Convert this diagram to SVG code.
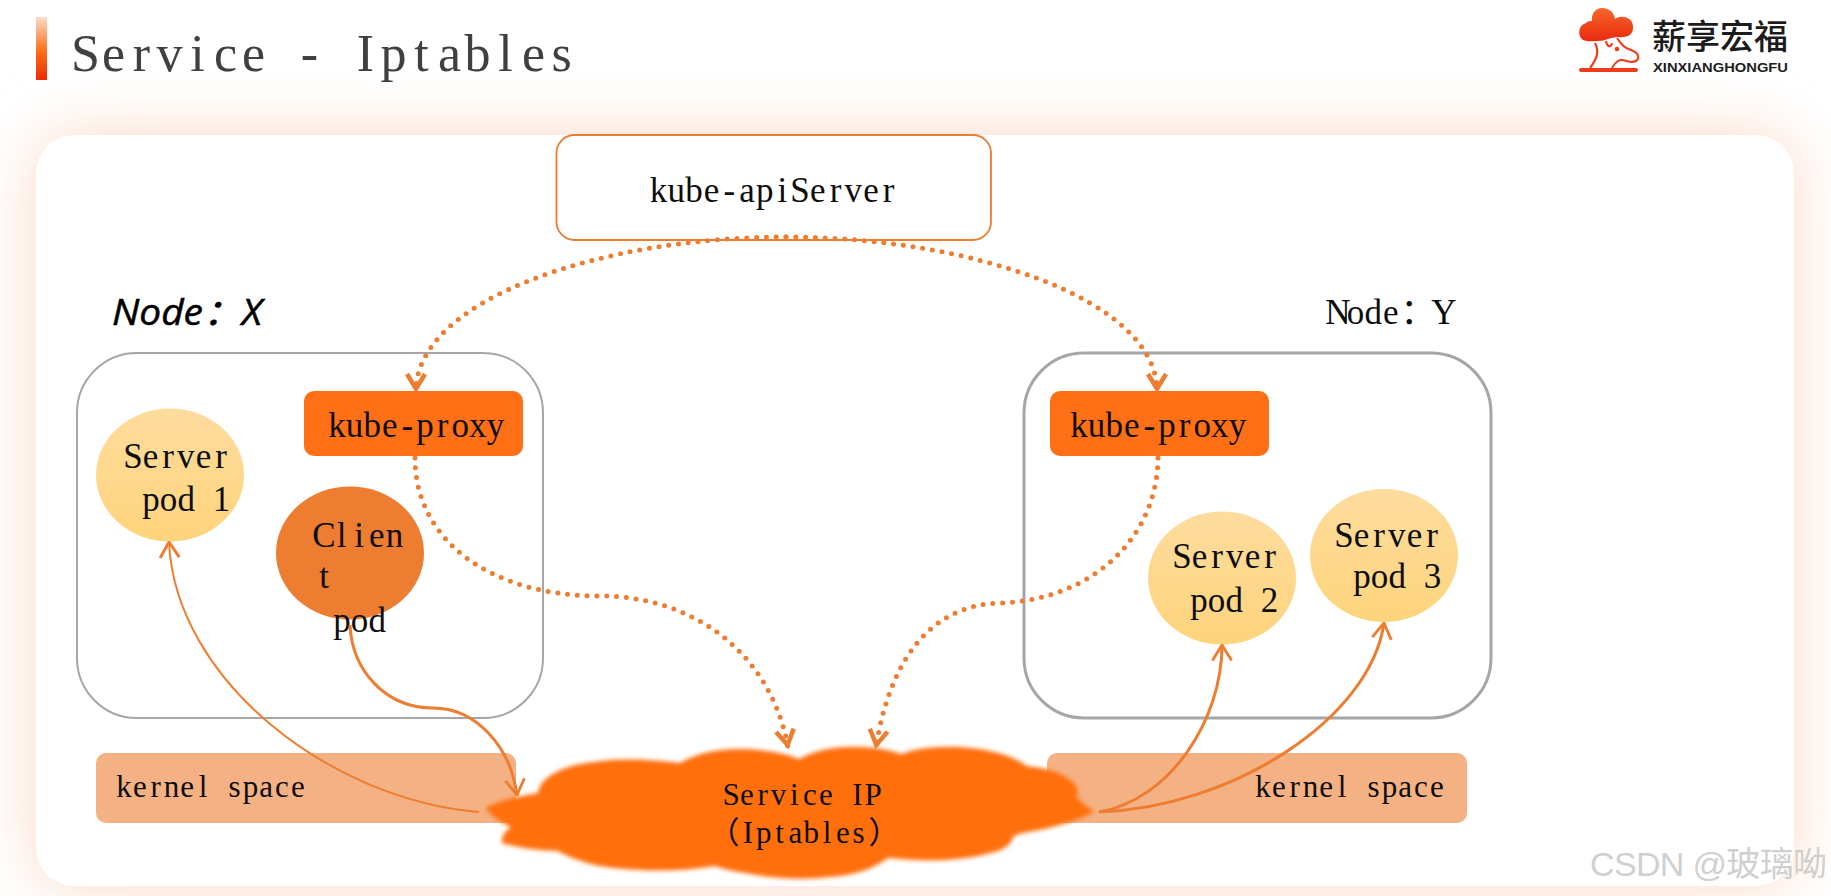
<svg xmlns="http://www.w3.org/2000/svg" width="1831" height="896" viewBox="0 0 1831 896">
<style>
.t{font-family:"Liberation Serif","Noto Sans CJK SC",serif;font-size:35px;fill:#0d0d0d;text-anchor:middle}
.s{font-size:31px}
.nodebox{fill:none;stroke:#a6a6a6}
.proxy{fill:#ff7016}
.kernel{fill:#f4b183}
.dot{fill:none;stroke:#ed7d31;stroke-width:5;stroke-linecap:round;stroke-dasharray:0 9.8;marker-end:url(#open)}
.solid{fill:none;stroke:#ed7d31}
</style>
<defs>
<linearGradient id="bar" x1="0" y1="0" x2="0" y2="1"><stop offset="0" stop-color="#fbdcc8"/><stop offset="0.55" stop-color="#ff6d14"/><stop offset="1" stop-color="#ec2a05"/></linearGradient>
<linearGradient id="pod" x1="0" y1="0" x2="0" y2="1"><stop offset="0" stop-color="#fedc9e"/><stop offset="1" stop-color="#fed47c"/></linearGradient>
<linearGradient id="logo" x1="0" y1="0" x2="0" y2="1"><stop offset="0" stop-color="#f4672a"/><stop offset="1" stop-color="#ea2a10"/></linearGradient>
<filter id="glow" x="-10%" y="-20%" width="120%" height="140%"><feGaussianBlur stdDeviation="32"/></filter>
<filter id="soft" x="-5%" y="-15%" width="110%" height="130%"><feGaussianBlur stdDeviation="2"/></filter>
<marker id="open" markerUnits="userSpaceOnUse" markerWidth="30" markerHeight="30" refX="23" refY="15" orient="auto" viewBox="0 0 30 30"><path d="M6,6 L21,15 L6,24" fill="none" stroke="#ed7d31" stroke-width="4.5"/></marker>
<marker id="thin" markerUnits="userSpaceOnUse" markerWidth="24" markerHeight="24" refX="19" refY="10" orient="auto" viewBox="0 0 20 20"><path d="M6,2 L19,10 L6,18" fill="none" stroke="#ed7d31" stroke-width="2.4"/></marker>
</defs>
<rect width="1831" height="896" fill="#ffffff"/>
<rect x="36" y="135" width="1758" height="751" rx="38" fill="#fbd9c6" filter="url(#glow)"/>
<rect x="36" y="135" width="1758" height="751" rx="38" fill="#ffffff"/>
<g id="title">
<rect x="36" y="17" width="11" height="63" fill="url(#bar)"/>
<text y="71" class="t" style="font-size:52px;fill:#404040" x="85.5 113.5 141.5 169.5 197.5 225.5 253.5 281.5 309.5 337.5 365.5 393.5 421.5 449.5 477.5 505.5 533.5 561.5">Service - Iptables</text>
</g>
<g id="brand">
<path d="M1583,40 C1577,36 1578,25 1586,23 C1588,21 1590,21 1592,21 C1591,12 1597,8 1602,8 C1610,8 1614,13 1615,19 C1620,15 1632,16 1633,26 C1634,35 1627,38 1618,37 C1610,37 1606,41 1598,41 C1593,41 1588,42 1583,40 Z" fill="url(#logo)"/>
<path d="M1595,43 C1600,52 1596,60 1590,68 M1617,38 C1621,44 1624,48 1631,50 C1640,53 1641,61 1632,62 C1627,62 1622,58 1618,61 C1615,63 1613,66 1612,68 M1606,41 C1607,47 1611,48 1612,43" fill="none" stroke="#ee3b1a" stroke-width="2.1"/>
<circle cx="1617" cy="49" r="2.3" fill="#ee3b1a"/>
<rect x="1579" y="68" width="59" height="4" rx="2" fill="#ee3b1a"/>
<text x="1652" y="49" style="font-family:'Noto Sans CJK SC',sans-serif;font-size:34px;font-weight:500;fill:#1c1c1c">薪享宏福</text>
<text x="1653" y="72" textLength="135" lengthAdjust="spacingAndGlyphs" style="font-family:'Liberation Sans',sans-serif;font-size:13.5px;font-weight:700;fill:#1c1c1c">XINXIANGHONGFU</text>
</g>
<g id="node-x">
<rect x="77" y="353" width="466" height="365" rx="60" class="nodebox" stroke-width="2"/>
<text x="112" y="325" textLength="150" lengthAdjust="spacingAndGlyphs" style="font-family:'Open Sans','Noto Sans CJK SC',sans-serif;font-size:36px;font-style:italic;fill:#000;stroke:#000;stroke-width:.5">Node：X</text>
</g>
<g id="node-y">
<rect x="1024" y="353" width="467" height="365" rx="60" class="nodebox" stroke-width="3"/>
<text y="324" class="t" x="1338 1355.6 1373.2 1390.8 1418 1444">Node：Y</text>
</g>
<g id="kube-apiserver">
<rect x="556.5" y="135" width="434.5" height="105" rx="18" fill="#fff" stroke="#ed7d31" stroke-width="1.8"/>
<text y="202" class="t" x="658.5 676.2 693.9 711.6 729.3 747 764.7 782.4 800.1 817.8 835.5 853.2 870.9 888.6">kube-apiServer</text>
</g>
<g id="kube-proxy-x">
<rect x="304" y="391" width="219" height="65" rx="10" class="proxy"/>
<text y="437" class="t" x="337 354.6 372.2 389.8 407.4 425 442.6 460.2 477.8 495.4">kube-proxy</text>
</g>
<g id="kube-proxy-y">
<rect x="1050" y="391" width="219" height="65" rx="10" class="proxy"/>
<text y="437" class="t" x="1079 1096.6 1114.2 1131.8 1149.4 1167 1184.6 1202.2 1219.8 1237.4">kube-proxy</text>
</g>
<g id="server-pod-1">
<ellipse cx="170" cy="475" rx="74" ry="66.5" fill="url(#pod)"/>
<text y="468" class="t" x="133 150.6 168.2 185.8 203.4 221">Server</text>
<text y="511" class="t" x="151 168.6 186.2 203.8 221.4">pod 1</text>
</g>
<g id="client-pod">
<ellipse cx="350" cy="553" rx="74" ry="66.5" fill="#ed7d31"/>
<text y="547" class="t" x="324 341.6 359.2 376.8 394.4">Clien</text>
<text y="588" class="t" x="324">t</text>
<text y="632" class="t" x="342 359.6 377.2">pod</text>
</g>
<g id="server-pod-2">
<ellipse cx="1222" cy="578" rx="74" ry="66.5" fill="url(#pod)"/>
<text y="568" class="t" x="1182 1199.6 1217.2 1234.8 1252.4 1270">Server</text>
<text y="612" class="t" x="1199 1216.6 1234.2 1251.8 1269.4">pod 2</text>
</g>
<g id="server-pod-3">
<ellipse cx="1384" cy="555.5" rx="74" ry="66.5" fill="url(#pod)"/>
<text y="547" class="t" x="1344 1361.6 1379.2 1396.8 1414.4 1432">Server</text>
<text y="588" class="t" x="1362 1379.6 1397.2 1414.8 1432.4">pod 3</text>
</g>
<g id="kernel-x">
<rect x="96" y="753" width="420" height="70" rx="10" class="kernel"/>
<text y="797" class="t s" x="124 139.8 155.6 171.4 187.2 203 218.8 234.6 250.4 266.2 282 297.8">kernel space</text>
</g>
<g id="kernel-y">
<rect x="1047" y="753" width="420" height="70" rx="10" class="kernel"/>
<text y="797" class="t s" x="1263 1278.8 1294.6 1310.4 1326.2 1342 1357.8 1373.6 1389.4 1405.2 1421 1436.8">kernel space</text>
</g>
<g id="connectors">
<path class="dot" d="M786,237 C600,237 416,300 416,391"/>
<path class="dot" d="M786,237 C972,237 1157,300 1157,391"/>
<path class="dot" d="M415,458 C415,540 490,596 600,596 C690,596 770,650 788,747"/>
<path class="dot" d="M1158,458 C1157,540 1090,600 1000,603 C930,605 890,660 876,747"/>
<path class="solid" stroke-width="2" marker-end="url(#thin)" d="M479,812 C330,800 175,680 169,542"/>
<path class="solid" stroke-width="3" marker-end="url(#thin)" d="M350,625 C352,670 385,708 433,708 C475,708 510,745 517,795"/>
<path class="solid" stroke-width="3" marker-end="url(#thin)" d="M1099,812 C1170,800 1222,720 1222,645"/>
<path class="solid" stroke-width="3" marker-end="url(#thin)" d="M1099,812 C1230,808 1370,720 1384,623"/>
</g>
<g id="service-ip">
<path filter="url(#soft)" fill="#ff7010" d="M485,808 Q505,798 538,793 Q540,775 575,765 Q620,755 680,763 Q710,745 760,750 Q785,753 799,759 Q825,745 862,747 Q885,748 901,754 Q925,745 960,747 Q1005,750 1027,766 Q1065,770 1077,787 Q1078,795 1077,798 Q1085,805 1094,812 Q1075,822 1040,830 Q1020,833 1014,836 Q1010,848 995,852 Q950,865 888,858 Q865,875 830,877 Q790,882 745,873 Q725,870 715,866 Q680,872 640,870 Q600,868 584,862 Q565,856 558,851 Q525,850 502,843 Q500,835 511,827 Q495,820 485,808 Z"/>
<text y="805" class="t s" x="731 746.8 762.6 778.4 794.2 810 825.8 841.6 857.4 873.2">Service IP</text>
<text y="843" class="t s" x="724 748 763.8 779.6 795.4 811.2 827 842.8 858.6 884">（Iptables）</text>
</g>
<text x="1590" y="876" textLength="237" style="font-family:'Liberation Sans','Noto Sans CJK SC',sans-serif;font-size:34px;fill:#c4c4c4;fill-opacity:.8">CSDN @玻璃呦</text>
</svg>
